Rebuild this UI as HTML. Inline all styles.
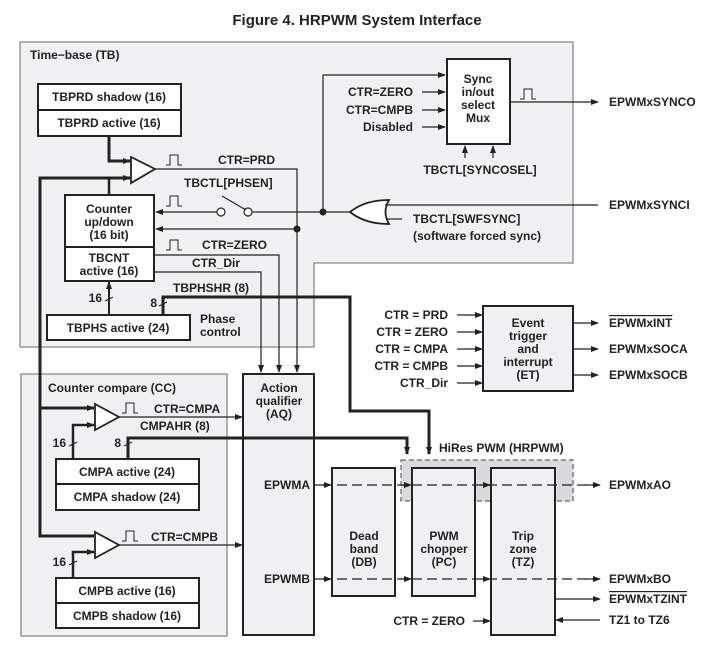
<!DOCTYPE html>
<html><head><meta charset="utf-8"><style>
body{margin:0;background:#fff;}
svg{display:block;font-family:"Liberation Sans",Arial,sans-serif;font-weight:bold;}
text{font-size:12px;fill:#222;}
</style></head><body>
<svg width="714" height="646" viewBox="0 0 714 646" xmlns="http://www.w3.org/2000/svg">
<defs>
<marker id="a" markerWidth="8" markerHeight="8" refX="7" refY="4" orient="auto" markerUnits="userSpaceOnUse"><path d="M0,1 L8,4 L0,7 Z" fill="#222"/></marker>
</defs>
<text x="357" y="25" text-anchor="middle" style="font-size:15px">Figure 4. HRPWM System Interface</text>

<path d="M20,42 H573 V263 H314 V347 H20 Z" fill="#f0f1f3" stroke="#888" stroke-width="1.3"/>
<rect x="21" y="374" width="206" height="262" fill="#f0f1f3" stroke="#888" stroke-width="1.3"/>
<text x="30" y="59">Time−base (TB)</text>
<text x="48" y="392">Counter compare (CC)</text>

<g stroke="#222" fill="none">
<rect x="38" y="84" width="143" height="52" fill="#fff" stroke-width="2"/>
<line x1="38" y1="110" x2="181" y2="110" stroke-width="2"/>
<rect x="65" y="195" width="89" height="86" fill="#fff" stroke-width="2"/>
<line x1="65" y1="247" x2="154" y2="247" stroke-width="2"/>
<rect x="47" y="315" width="143" height="25" fill="#fff" stroke-width="2"/>
<path d="M131,157 L131,183 L155,169 Z" fill="#fff" stroke-width="1.8"/>
<path d="M109,136 V161 H130" stroke-width="3" marker-end="url(#a)"/>
<path d="M94,536 H40 V178 H130" stroke-width="3" marker-end="url(#a)"/>
<line x1="109" y1="195" x2="109" y2="178" stroke-width="2.5"/>
<path d="M155,169 H297 V372" stroke-width="1.2" marker-end="url(#a)"/>
<path d="M297,229 H156" stroke-width="1.2" marker-end="url(#a)"/>
<circle cx="297" cy="229" r="3" fill="#222"/>
<path d="M217,212 H156" stroke-width="1.2" marker-end="url(#a)"/>
<circle cx="221" cy="212" r="4" fill="#fff" stroke-width="1.2"/>
<circle cx="248" cy="212" r="4" fill="#fff" stroke-width="1.2"/>
<line x1="222" y1="196" x2="246" y2="210" stroke-width="1.2"/>
<path d="M252,212 H350" stroke-width="1.2"/>
<circle cx="323" cy="212" r="3" fill="#222"/>
<path d="M323,212 V75 H445" stroke-width="1.2" marker-end="url(#a)"/>
<path d="M154,255 H279 V372" stroke-width="1.2" marker-end="url(#a)"/>
<path d="M154,272 H261 V372" stroke-width="1.2" marker-end="url(#a)"/>
<path d="M109,315 V282" stroke-width="2" marker-end="url(#a)"/>
<line x1="105" y1="301" x2="113" y2="297" stroke-width="1"/>
<line x1="159" y1="306" x2="167" y2="302" stroke-width="1"/>
<path d="M163,315 V297 H350 V411 H429 V454" stroke-width="3" marker-end="url(#a)"/>
<path d="M166,165 h4 v-10 h8 v10 h4" stroke-width="1"/>
<path d="M166,206 h4 v-10 h8 v10 h4" stroke-width="1"/>
<path d="M166,250 h4 v-10 h8 v10 h4" stroke-width="1"/>
<path d="M520,99 h4 v-10 h8 v10 h4" stroke-width="1"/>
<path d="M122,413 h4 v-10 h8 v10 h4" stroke-width="1"/>
<path d="M122,541 h4 v-10 h8 v10 h4" stroke-width="1"/>

<rect x="447" y="59" width="63" height="85" fill="#fff" stroke-width="2"/>
<path d="M422,92 H445" stroke-width="1.2" marker-end="url(#a)"/>
<path d="M422,110 H445" stroke-width="1.2" marker-end="url(#a)"/>
<path d="M422,127 H445" stroke-width="1.2" marker-end="url(#a)"/>
<path d="M510,102 H598" stroke-width="1.2" marker-end="url(#a)"/>
<path d="M465,158 V146" stroke-width="1.2" marker-end="url(#a)"/>
<path d="M493,158 V146" stroke-width="1.2" marker-end="url(#a)"/>
<path d="M350,212 Q365,200 389,200 Q382,212 389,224 Q365,224 350,212 Z" fill="#fff" stroke-width="1.8"/>
<path d="M385,205 H598" stroke-width="1.2"/>
<path d="M386,219 H402" stroke-width="1.2"/>

<rect x="483" y="306" width="90" height="85" fill="#eef0f2" stroke-width="2"/>
<path d="M457,315 H482" stroke-width="1.2" marker-end="url(#a)"/>
<path d="M457,332 H482" stroke-width="1.2" marker-end="url(#a)"/>
<path d="M457,349 H482" stroke-width="1.2" marker-end="url(#a)"/>
<path d="M457,366 H482" stroke-width="1.2" marker-end="url(#a)"/>
<path d="M457,383 H482" stroke-width="1.2" marker-end="url(#a)"/>
<path d="M573,323 H598" stroke-width="1.2" marker-end="url(#a)"/>
<path d="M573,349 H598" stroke-width="1.2" marker-end="url(#a)"/>
<path d="M573,375 H598" stroke-width="1.2" marker-end="url(#a)"/>

<path d="M95,404 L95,430 L119,417 Z" fill="#fff" stroke-width="1.8"/>
<path d="M40,408 H94" stroke-width="3" marker-end="url(#a)"/>
<path d="M73,459 V425 H94" stroke-width="2.5" marker-end="url(#a)"/>
<path d="M119,417 H242" stroke-width="1.2" marker-end="url(#a)"/>
<rect x="56" y="459" width="143" height="51" fill="#fff" stroke-width="2"/>
<line x1="56" y1="484" x2="199" y2="484" stroke-width="2"/>
<path d="M128,459 V438 H407 V454" stroke-width="3" marker-end="url(#a)"/>
<line x1="69" y1="446" x2="77" y2="442" stroke-width="1"/>
<line x1="124" y1="446" x2="132" y2="442" stroke-width="1"/>
<path d="M95,532 L95,558 L119,545 Z" fill="#fff" stroke-width="1.8"/>
<path d="M73,578 V552 H94" stroke-width="2.5" marker-end="url(#a)"/>
<path d="M119,545 H242" stroke-width="1.2" marker-end="url(#a)"/>
<rect x="56" y="578" width="143" height="50" fill="#fff" stroke-width="2"/>
<line x1="56" y1="603" x2="199" y2="603" stroke-width="2"/>
<line x1="69" y1="565" x2="77" y2="561" stroke-width="1"/>

<rect x="243" y="374" width="71" height="261" fill="#eef0f2" stroke-width="2"/>
<line x1="243" y1="438" x2="314" y2="438" stroke-width="3"/>
<rect x="401" y="460" width="172" height="41" fill="#d9dadc" stroke="#666" stroke-width="1.2" stroke-dasharray="5,3"/>
<rect x="332" y="468" width="63" height="128" fill="#eef0f2" stroke-width="2"/>
<rect x="412" y="468" width="63" height="128" fill="#eef0f2" stroke-width="2"/>
<rect x="491" y="468" width="64" height="167" fill="#eef0f2" stroke-width="2"/>
<g stroke-width="1.2" stroke-dasharray="10,5">
<line x1="322" y1="485" x2="598" y2="485"/>
<line x1="322" y1="579" x2="598" y2="579"/>
</g>
<g stroke-width="1.2">
<path d="M314,485 H331" marker-end="url(#a)"/>
<path d="M314,579 H331" marker-end="url(#a)"/>
<path d="M400,485 H411" marker-end="url(#a)"/>
<path d="M400,579 H411" marker-end="url(#a)"/>
<path d="M480,485 H490" marker-end="url(#a)"/>
<path d="M480,579 H490" marker-end="url(#a)"/>
<path d="M585,485 H600" marker-end="url(#a)"/>
<path d="M585,579 H600" marker-end="url(#a)"/>
<path d="M555,599 H600" marker-end="url(#a)"/>
<path d="M600,620 H556" marker-end="url(#a)"/>
<path d="M473,621 H490" marker-end="url(#a)"/>
</g>
</g>

<g text-anchor="middle">
<text x="109" y="101">TBPRD shadow (16)</text>
<text x="109" y="127">TBPRD active (16)</text>
<text x="109" y="213">Counter</text>
<text x="109" y="226">up/down</text>
<text x="109" y="239">(16 bit)</text>
<text x="109" y="262">TBCNT</text>
<text x="109" y="275">active (16)</text>
<text x="118" y="332">TBPHS active (24)</text>
<text x="478" y="83">Sync</text>
<text x="478" y="96">in/out</text>
<text x="478" y="109">select</text>
<text x="478" y="122">Mux</text>
<text x="528" y="327">Event</text>
<text x="528" y="340">trigger</text>
<text x="528" y="353">and</text>
<text x="528" y="366">interrupt</text>
<text x="528" y="379">(ET)</text>
<text x="127" y="476">CMPA active (24)</text>
<text x="127" y="501">CMPA shadow (24)</text>
<text x="127" y="595">CMPB active (16)</text>
<text x="127" y="620">CMPB shadow (16)</text>
<text x="279" y="392">Action</text>
<text x="279" y="405">qualifier</text>
<text x="279" y="418">(AQ)</text>
<text x="364" y="540">Dead</text>
<text x="364" y="553">band</text>
<text x="364" y="566">(DB)</text>
<text x="444" y="540">PWM</text>
<text x="444" y="553">chopper</text>
<text x="444" y="566">(PC)</text>
<text x="523" y="540">Trip</text>
<text x="523" y="553">zone</text>
<text x="523" y="566">(TZ)</text>
<text x="480" y="174">TBCTL[SYNCOSEL]</text>
</g>
<g text-anchor="end">
<text x="413" y="96">CTR=ZERO</text>
<text x="413" y="114">CTR=CMPB</text>
<text x="413" y="131">Disabled</text>
<text x="448" y="319">CTR = PRD</text>
<text x="448" y="336">CTR = ZERO</text>
<text x="448" y="353">CTR = CMPA</text>
<text x="448" y="370">CTR = CMPB</text>
<text x="448" y="387">CTR_Dir</text>
<text x="310" y="489">EPWMA</text>
<text x="310" y="583">EPWMB</text>
<text x="465" y="625">CTR = ZERO</text>
<text x="102" y="302">16</text>
<text x="157" y="307">8</text>
<text x="66" y="447">16</text>
<text x="121" y="447">8</text>
<text x="66" y="566">16</text>
</g>
<text x="218" y="164">CTR=PRD</text>
<text x="184" y="187">TBCTL[PHSEN]</text>
<text x="202" y="249">CTR=ZERO</text>
<text x="192" y="267">CTR_Dir</text>
<text x="173" y="292">TBPHSHR (8)</text>
<text x="200" y="323">Phase</text>
<text x="200" y="336">control</text>
<text x="413" y="223">TBCTL[SWFSYNC]</text>
<text x="413" y="240">(software forced sync)</text>
<text x="154" y="413">CTR=CMPA</text>
<text x="140" y="430">CMPAHR (8)</text>
<text x="151" y="541">CTR=CMPB</text>
<text x="439" y="452">HiRes PWM (HRPWM)</text>
<text x="609" y="106">EPWMxSYNCO</text>
<text x="609" y="209">EPWMxSYNCI</text>
<text x="609" y="327" text-decoration="overline">EPWMxINT</text>
<text x="609" y="353">EPWMxSOCA</text>
<text x="609" y="379">EPWMxSOCB</text>
<text x="609" y="489">EPWMxAO</text>
<text x="609" y="583">EPWMxBO</text>
<text x="609" y="603" text-decoration="overline">EPWMxTZINT</text>
<text x="609" y="624">TZ1 to TZ6</text>
</svg>
</body></html>
